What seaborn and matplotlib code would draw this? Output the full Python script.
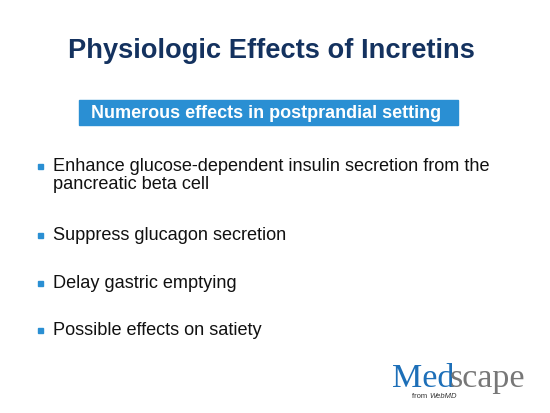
import matplotlib
matplotlib.use("Agg")
import matplotlib.pyplot as plt
import seaborn as sns
from matplotlib.patches import Rectangle

sns.set_theme(style="white")
plt.rcParams['font.family'] = ['Liberation Sans', 'DejaVu Sans']

title = "Physiologic Effects of Incretins"
subtitle = "Numerous effects in postprandial setting"
bullets = [
    "Enhance glucose-dependent insulin secretion from the\npancreatic beta cell",
    "Suppress glucagon secretion",
    "Delay gastric emptying",
    "Possible effects on satiety",
]
bullet_y = [167, 236, 284, 331]

fig = plt.figure(figsize=(5.5, 4.13), dpi=100)
ax = fig.add_axes([0, 0, 1, 1])
ax.set_xlim(0, 550); ax.set_ylim(413, 0); ax.axis("off")

ax.text(271, 51, title, ha="center", va="center", fontsize=19.6, fontweight="bold", color="#14325f")
ax.add_patch(Rectangle((79, 100), 379, 25, color="#2a8fd3"))
ax.text(266, 113, subtitle, ha="center", va="center", fontsize=13, fontweight="bold", color="white")

for y, t in zip(bullet_y, bullets):
    ax.add_patch(Rectangle((38, y - 3.5), 5, 5, color="#2a8fd3"))
    ax.text(53, y - 9, t, ha="left", va="top", fontsize=13.1, color="#111111", linespacing=1.05)

ax.text(392, 387, "Med", fontsize=24.5, family="Liberation Serif", color="#1d6fb8", va="baseline")
ax.text(450, 387, "scape", fontsize=24.5, family="Liberation Serif", color="#777777", va="baseline")
ax.text(412, 398, "from ", fontsize=5.5, color="#333333", va="baseline")
ax.text(429, 398, "WebMD", fontsize=5.5, color="#333333", va="baseline", style="italic")

fig.savefig("out.png", dpi=100)
